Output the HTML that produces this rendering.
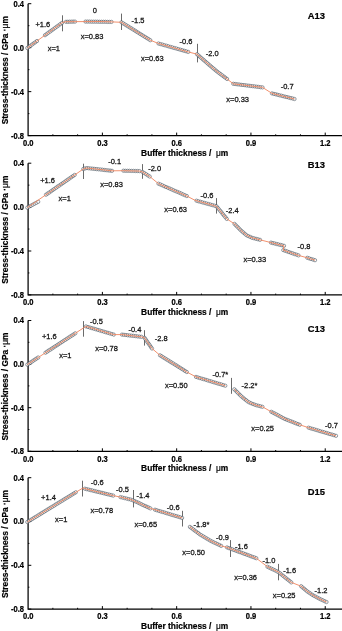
<!DOCTYPE html>
<html><head><meta charset="utf-8"><title>Stress-thickness vs buffer thickness</title>
<style>html,body{margin:0;padding:0;background:#fff}svg{display:block}</style></head>
<body>
<svg width="342" height="631" viewBox="0 0 342 631">
<rect width="342" height="631" fill="#fff"/>
<g>
<path d="M28.1,3.7V135.6H342" fill="none" stroke="#000" stroke-width="1.25"/>
<path d="M28.1,3.70h3.2 M28.1,25.68h1.3 M28.1,47.67h3.2 M28.1,69.65h1.3 M28.1,91.63h3.2 M28.1,113.62h1.3 M28.1,135.60h3.2 M52.86,135.6v-1.3 M77.62,135.6v-1.3 M102.38,135.6v-3.0 M127.14,135.6v-1.3 M151.90,135.6v-1.3 M176.66,135.6v-3.0 M201.42,135.6v-1.3 M226.18,135.6v-1.3 M250.94,135.6v-3.0 M275.70,135.6v-1.3 M300.46,135.6v-1.3 M325.22,135.6v-3.0" fill="none" stroke="#000" stroke-width="1"/>
<g font-family="Liberation Sans, sans-serif" font-weight="bold" font-size="7.8" fill="#000" stroke="#000" stroke-width="0.2">
<text transform="translate(24,6.6) scale(0.97,1.12)" text-anchor="end">0.4</text>
<text transform="translate(24,50.6) scale(0.97,1.12)" text-anchor="end">0.0</text>
<text transform="translate(24,94.5) scale(0.97,1.12)" text-anchor="end">-0.4</text>
<text transform="translate(24,138.5) scale(0.97,1.12)" text-anchor="end">-0.8</text>
<text transform="translate(28.2,145.8) scale(0.97,1.12)" text-anchor="middle">0.0</text>
<text transform="translate(102.5,145.8) scale(0.97,1.12)" text-anchor="middle">0.3</text>
<text transform="translate(176.8,145.8) scale(0.97,1.12)" text-anchor="middle">0.6</text>
<text transform="translate(251.0,145.8) scale(0.97,1.12)" text-anchor="middle">0.9</text>
<text transform="translate(325.3,145.8) scale(0.97,1.12)" text-anchor="middle">1.2</text>
</g>
<text x="141.1" y="155.5" font-family="Liberation Sans, sans-serif" font-weight="bold" font-size="8.4" fill="#000" stroke="#000" stroke-width="0.2" xml:space="preserve">Buffer thickness /  <tspan font-weight="normal">μ</tspan>m</text>
<text transform="translate(8.1,124.3) rotate(-90)" font-family="Liberation Sans, sans-serif" font-weight="bold" font-size="8.4" fill="#000" stroke="#000" stroke-width="0.2">Stress-thickness / GPa ·<tspan font-weight="normal">μ</tspan>m</text>
<text transform="translate(307.7,18.9) scale(1.01,1.06)" font-family="Liberation Sans, sans-serif" font-weight="bold" font-size="9.3" fill="#000" stroke="#000" stroke-width="0.2">A13</text>
<path d="M62.5,15.3V31.3" stroke="#505050" stroke-width="0.85" fill="none"/>
<path d="M121.5,13.6V30" stroke="#505050" stroke-width="0.85" fill="none"/>
<path d="M197.5,43.8V62.4" stroke="#505050" stroke-width="0.85" fill="none"/>
<g fill="#ffffff" fill-opacity="0.8" stroke="#3c4852" stroke-width="0.55"><circle cx="27.3" cy="48.0" r="1.65"/><circle cx="28.9" cy="46.8" r="1.65"/><circle cx="30.5" cy="45.7" r="1.65"/><circle cx="32.1" cy="44.5" r="1.65"/><circle cx="33.8" cy="43.3" r="1.65"/><circle cx="35.4" cy="42.2" r="1.65"/><circle cx="37.0" cy="41.0" r="1.65"/><circle cx="45.0" cy="35.2" r="1.65"/><circle cx="46.7" cy="34.0" r="1.65"/><circle cx="48.4" cy="32.7" r="1.65"/><circle cx="50.1" cy="31.5" r="1.65"/><circle cx="51.8" cy="30.3" r="1.65"/><circle cx="53.5" cy="29.1" r="1.65"/><circle cx="55.2" cy="27.8" r="1.65"/><circle cx="56.9" cy="26.6" r="1.65"/><circle cx="58.6" cy="25.4" r="1.65"/><circle cx="60.3" cy="24.1" r="1.65"/><circle cx="62.0" cy="22.9" r="1.65"/><circle cx="66.0" cy="21.8" r="1.65"/><circle cx="67.8" cy="21.8" r="1.65"/><circle cx="69.6" cy="21.7" r="1.65"/><circle cx="71.4" cy="21.7" r="1.65"/><circle cx="73.2" cy="21.6" r="1.65"/><circle cx="75.0" cy="21.6" r="1.65"/><circle cx="85.5" cy="21.6" r="1.65"/><circle cx="87.5" cy="21.6" r="1.65"/><circle cx="89.5" cy="21.6" r="1.65"/><circle cx="91.5" cy="21.7" r="1.65"/><circle cx="93.5" cy="21.7" r="1.65"/><circle cx="95.5" cy="21.7" r="1.65"/><circle cx="97.5" cy="21.7" r="1.65"/><circle cx="99.5" cy="21.8" r="1.65"/><circle cx="101.5" cy="21.8" r="1.65"/><circle cx="103.5" cy="21.8" r="1.65"/><circle cx="105.5" cy="21.8" r="1.65"/><circle cx="107.5" cy="21.9" r="1.65"/><circle cx="109.5" cy="21.9" r="1.65"/><circle cx="111.5" cy="21.9" r="1.65"/><circle cx="121.5" cy="22.3" r="1.65"/><circle cx="123.2" cy="23.4" r="1.65"/><circle cx="124.9" cy="24.4" r="1.65"/><circle cx="126.6" cy="25.5" r="1.65"/><circle cx="128.3" cy="26.5" r="1.65"/><circle cx="130.0" cy="27.6" r="1.65"/><circle cx="131.7" cy="28.6" r="1.65"/><circle cx="133.4" cy="29.7" r="1.65"/><circle cx="135.1" cy="30.7" r="1.65"/><circle cx="136.7" cy="31.8" r="1.65"/><circle cx="138.4" cy="32.8" r="1.65"/><circle cx="140.1" cy="33.9" r="1.65"/><circle cx="141.8" cy="34.9" r="1.65"/><circle cx="143.5" cy="36.0" r="1.65"/><circle cx="145.2" cy="37.0" r="1.65"/><circle cx="146.9" cy="38.1" r="1.65"/><circle cx="148.6" cy="39.1" r="1.65"/><circle cx="150.3" cy="40.2" r="1.65"/><circle cx="158.5" cy="43.5" r="1.65"/><circle cx="160.5" cy="44.1" r="1.65"/><circle cx="162.5" cy="44.6" r="1.65"/><circle cx="164.4" cy="45.2" r="1.65"/><circle cx="166.4" cy="45.7" r="1.65"/><circle cx="168.4" cy="46.3" r="1.65"/><circle cx="170.4" cy="46.9" r="1.65"/><circle cx="172.4" cy="47.4" r="1.65"/><circle cx="174.3" cy="48.0" r="1.65"/><circle cx="176.3" cy="48.5" r="1.65"/><circle cx="178.3" cy="49.1" r="1.65"/><circle cx="180.3" cy="49.7" r="1.65"/><circle cx="182.3" cy="50.2" r="1.65"/><circle cx="184.2" cy="50.8" r="1.65"/><circle cx="186.2" cy="51.3" r="1.65"/><circle cx="188.2" cy="51.9" r="1.65"/><circle cx="197.0" cy="54.2" r="1.65"/><circle cx="198.5" cy="55.5" r="1.65"/><circle cx="199.9" cy="56.8" r="1.65"/><circle cx="201.4" cy="58.1" r="1.65"/><circle cx="202.9" cy="59.4" r="1.65"/><circle cx="204.3" cy="60.6" r="1.65"/><circle cx="205.8" cy="61.9" r="1.65"/><circle cx="207.3" cy="63.2" r="1.65"/><circle cx="208.7" cy="64.5" r="1.65"/><circle cx="210.2" cy="65.7" r="1.65"/><circle cx="211.7" cy="67.0" r="1.65"/><circle cx="213.2" cy="68.3" r="1.65"/><circle cx="214.7" cy="69.5" r="1.65"/><circle cx="216.2" cy="70.8" r="1.65"/><circle cx="217.7" cy="72.0" r="1.65"/><circle cx="219.3" cy="73.2" r="1.65"/><circle cx="220.8" cy="74.3" r="1.65"/><circle cx="222.4" cy="75.5" r="1.65"/><circle cx="224.0" cy="76.7" r="1.65"/><circle cx="225.5" cy="77.8" r="1.65"/><circle cx="227.1" cy="79.0" r="1.65"/><circle cx="233.3" cy="83.8" r="1.65"/><circle cx="235.2" cy="84.0" r="1.65"/><circle cx="237.2" cy="84.3" r="1.65"/><circle cx="239.1" cy="84.5" r="1.65"/><circle cx="241.1" cy="84.8" r="1.65"/><circle cx="243.0" cy="85.0" r="1.65"/><circle cx="245.0" cy="85.2" r="1.65"/><circle cx="246.9" cy="85.5" r="1.65"/><circle cx="248.9" cy="85.7" r="1.65"/><circle cx="250.8" cy="86.0" r="1.65"/><circle cx="252.8" cy="86.2" r="1.65"/><circle cx="254.7" cy="86.4" r="1.65"/><circle cx="256.7" cy="86.7" r="1.65"/><circle cx="258.6" cy="86.9" r="1.65"/><circle cx="260.6" cy="87.2" r="1.65"/><circle cx="262.5" cy="87.4" r="1.65"/><circle cx="272.0" cy="93.4" r="1.65"/><circle cx="273.9" cy="93.9" r="1.65"/><circle cx="275.8" cy="94.3" r="1.65"/><circle cx="277.6" cy="94.8" r="1.65"/><circle cx="279.5" cy="95.3" r="1.65"/><circle cx="281.4" cy="95.7" r="1.65"/><circle cx="283.2" cy="96.2" r="1.65"/><circle cx="285.1" cy="96.7" r="1.65"/><circle cx="287.0" cy="97.1" r="1.65"/><circle cx="288.9" cy="97.6" r="1.65"/><circle cx="290.8" cy="98.1" r="1.65"/><circle cx="292.6" cy="98.5" r="1.65"/><circle cx="294.5" cy="99.0" r="1.65"/></g>
<polyline points="27.3,48 62.9,22.2 66,21.7 100,21.5 112.2,21.9 121.5,22.3 150.3,40.2 158.5,43.5 188.2,51.9 197,54.2 207,63 217,71.5 227.1,79 233.3,83.8 262.5,87.4 272,93.4 294.5,99" fill="none" stroke="#f0845e" stroke-width="0.9"/>
<g font-family="Liberation Sans, sans-serif" font-size="7.5" fill="#111" stroke="#111" stroke-width="0.25">
<text transform="translate(35.5,27.45) scale(1,1.07)">+1.6</text>
<text transform="translate(47.7,50.85) scale(1,1.07)">x=1</text>
<text transform="translate(92.8,13.45) scale(1,1.07)">0</text>
<text transform="translate(80.7,38.75) scale(1,1.07)">x=0.83</text>
<text transform="translate(131.6,23.45) scale(1,1.07)">-1.5</text>
<text transform="translate(141,61.05) scale(1,1.07)">x=0.63</text>
<text transform="translate(179.5,44.45) scale(1,1.07)">-0.6</text>
<text transform="translate(205.8,55.85) scale(1,1.07)">-2.0</text>
<text transform="translate(280.7,89.35) scale(1,1.07)">-0.7</text>
<text transform="translate(226.3,102.35) scale(1,1.07)">x=0.33</text>
</g>
</g>
<g>
<path d="M28.1,163.2V294.9H342" fill="none" stroke="#000" stroke-width="1.25"/>
<path d="M28.1,163.20h3.2 M28.1,185.15h1.3 M28.1,207.10h3.2 M28.1,229.05h1.3 M28.1,251.00h3.2 M28.1,272.95h1.3 M28.1,294.90h3.2 M52.86,294.9v-1.3 M77.62,294.9v-1.3 M102.38,294.9v-3.0 M127.14,294.9v-1.3 M151.90,294.9v-1.3 M176.66,294.9v-3.0 M201.42,294.9v-1.3 M226.18,294.9v-1.3 M250.94,294.9v-3.0 M275.70,294.9v-1.3 M300.46,294.9v-1.3 M325.22,294.9v-3.0" fill="none" stroke="#000" stroke-width="1"/>
<g font-family="Liberation Sans, sans-serif" font-weight="bold" font-size="7.8" fill="#000" stroke="#000" stroke-width="0.2">
<text transform="translate(24,166.1) scale(0.97,1.12)" text-anchor="end">0.4</text>
<text transform="translate(24,210.0) scale(0.97,1.12)" text-anchor="end">0.0</text>
<text transform="translate(24,253.9) scale(0.97,1.12)" text-anchor="end">-0.4</text>
<text transform="translate(24,297.8) scale(0.97,1.12)" text-anchor="end">-0.8</text>
<text transform="translate(28.2,305.1) scale(0.97,1.12)" text-anchor="middle">0.0</text>
<text transform="translate(102.5,305.1) scale(0.97,1.12)" text-anchor="middle">0.3</text>
<text transform="translate(176.8,305.1) scale(0.97,1.12)" text-anchor="middle">0.6</text>
<text transform="translate(251.0,305.1) scale(0.97,1.12)" text-anchor="middle">0.9</text>
<text transform="translate(325.3,305.1) scale(0.97,1.12)" text-anchor="middle">1.2</text>
</g>
<text x="141.1" y="314.8" font-family="Liberation Sans, sans-serif" font-weight="bold" font-size="8.4" fill="#000" stroke="#000" stroke-width="0.2" xml:space="preserve">Buffer thickness /  <tspan font-weight="normal">μ</tspan>m</text>
<text transform="translate(8.1,283.8) rotate(-90)" font-family="Liberation Sans, sans-serif" font-weight="bold" font-size="8.4" fill="#000" stroke="#000" stroke-width="0.2">Stress-thickness / GPa ·<tspan font-weight="normal">μ</tspan>m</text>
<text transform="translate(307.7,168.2) scale(1.01,1.06)" font-family="Liberation Sans, sans-serif" font-weight="bold" font-size="9.3" fill="#000" stroke="#000" stroke-width="0.2">B13</text>
<path d="M83.5,163.7V179" stroke="#505050" stroke-width="0.85" fill="none"/>
<path d="M142.5,164.1V178.8" stroke="#505050" stroke-width="0.85" fill="none"/>
<path d="M216.5,198.1V213.6" stroke="#505050" stroke-width="0.85" fill="none"/>
<g fill="#ffffff" fill-opacity="0.8" stroke="#3c4852" stroke-width="0.55"><circle cx="27.3" cy="207.6" r="1.65"/><circle cx="29.1" cy="206.6" r="1.65"/><circle cx="30.9" cy="205.7" r="1.65"/><circle cx="32.8" cy="204.7" r="1.65"/><circle cx="34.6" cy="203.7" r="1.65"/><circle cx="36.4" cy="202.8" r="1.65"/><circle cx="38.2" cy="201.8" r="1.65"/><circle cx="46.0" cy="194.7" r="1.65"/><circle cx="47.7" cy="193.5" r="1.65"/><circle cx="49.4" cy="192.4" r="1.65"/><circle cx="51.1" cy="191.2" r="1.65"/><circle cx="52.8" cy="190.0" r="1.65"/><circle cx="54.4" cy="188.9" r="1.65"/><circle cx="56.1" cy="187.7" r="1.65"/><circle cx="57.8" cy="186.5" r="1.65"/><circle cx="59.5" cy="185.4" r="1.65"/><circle cx="61.2" cy="184.2" r="1.65"/><circle cx="62.9" cy="183.1" r="1.65"/><circle cx="64.6" cy="181.9" r="1.65"/><circle cx="66.3" cy="180.7" r="1.65"/><circle cx="67.9" cy="179.6" r="1.65"/><circle cx="69.6" cy="178.4" r="1.65"/><circle cx="71.3" cy="177.2" r="1.65"/><circle cx="73.0" cy="176.1" r="1.65"/><circle cx="74.7" cy="174.9" r="1.65"/><circle cx="83.3" cy="169.0" r="1.65"/><circle cx="85.1" cy="168.4" r="1.65"/><circle cx="87.0" cy="168.1" r="1.65"/><circle cx="88.9" cy="168.3" r="1.65"/><circle cx="90.9" cy="168.5" r="1.65"/><circle cx="92.8" cy="168.7" r="1.65"/><circle cx="94.7" cy="168.9" r="1.65"/><circle cx="96.6" cy="169.1" r="1.65"/><circle cx="98.5" cy="169.3" r="1.65"/><circle cx="100.5" cy="169.5" r="1.65"/><circle cx="102.4" cy="169.7" r="1.65"/><circle cx="104.3" cy="170.0" r="1.65"/><circle cx="106.2" cy="170.2" r="1.65"/><circle cx="108.2" cy="170.4" r="1.65"/><circle cx="110.1" cy="170.6" r="1.65"/><circle cx="112.0" cy="170.8" r="1.65"/><circle cx="123.4" cy="170.7" r="1.65"/><circle cx="125.4" cy="170.8" r="1.65"/><circle cx="127.4" cy="170.8" r="1.65"/><circle cx="129.4" cy="170.8" r="1.65"/><circle cx="131.4" cy="170.9" r="1.65"/><circle cx="133.5" cy="170.9" r="1.65"/><circle cx="135.5" cy="171.0" r="1.65"/><circle cx="137.5" cy="171.0" r="1.65"/><circle cx="139.5" cy="171.1" r="1.65"/><circle cx="142.6" cy="172.0" r="1.65"/><circle cx="144.4" cy="173.1" r="1.65"/><circle cx="146.1" cy="174.2" r="1.65"/><circle cx="147.9" cy="175.4" r="1.65"/><circle cx="149.7" cy="176.5" r="1.65"/><circle cx="158.5" cy="183.7" r="1.65"/><circle cx="160.4" cy="184.5" r="1.65"/><circle cx="162.3" cy="185.3" r="1.65"/><circle cx="164.2" cy="186.2" r="1.65"/><circle cx="166.0" cy="187.0" r="1.65"/><circle cx="167.9" cy="187.8" r="1.65"/><circle cx="169.8" cy="188.6" r="1.65"/><circle cx="171.7" cy="189.4" r="1.65"/><circle cx="173.6" cy="190.3" r="1.65"/><circle cx="175.5" cy="191.1" r="1.65"/><circle cx="177.4" cy="191.9" r="1.65"/><circle cx="179.3" cy="192.7" r="1.65"/><circle cx="181.1" cy="193.5" r="1.65"/><circle cx="183.0" cy="194.4" r="1.65"/><circle cx="184.9" cy="195.2" r="1.65"/><circle cx="186.8" cy="196.0" r="1.65"/><circle cx="196.5" cy="200.7" r="1.65"/><circle cx="198.5" cy="201.3" r="1.65"/><circle cx="200.5" cy="201.8" r="1.65"/><circle cx="202.5" cy="202.4" r="1.65"/><circle cx="204.5" cy="202.9" r="1.65"/><circle cx="206.5" cy="203.5" r="1.65"/><circle cx="208.5" cy="204.0" r="1.65"/><circle cx="210.5" cy="204.6" r="1.65"/><circle cx="212.5" cy="205.1" r="1.65"/><circle cx="214.5" cy="205.7" r="1.65"/><circle cx="216.5" cy="206.3" r="1.65"/><circle cx="217.8" cy="207.9" r="1.65"/><circle cx="219.1" cy="209.5" r="1.65"/><circle cx="220.4" cy="211.0" r="1.65"/><circle cx="221.7" cy="212.6" r="1.65"/><circle cx="222.9" cy="214.2" r="1.65"/><circle cx="224.2" cy="215.8" r="1.65"/><circle cx="225.5" cy="217.3" r="1.65"/><circle cx="226.8" cy="218.9" r="1.65"/><circle cx="234.5" cy="223.9" r="1.65"/><circle cx="235.9" cy="225.4" r="1.65"/><circle cx="237.4" cy="226.8" r="1.65"/><circle cx="238.8" cy="228.3" r="1.65"/><circle cx="240.3" cy="229.8" r="1.65"/><circle cx="241.8" cy="231.2" r="1.65"/><circle cx="243.3" cy="232.5" r="1.65"/><circle cx="244.9" cy="233.8" r="1.65"/><circle cx="246.5" cy="235.2" r="1.65"/><circle cx="248.3" cy="236.1" r="1.65"/><circle cx="250.2" cy="236.9" r="1.65"/><circle cx="252.0" cy="237.8" r="1.65"/><circle cx="254.0" cy="238.3" r="1.65"/><circle cx="256.0" cy="238.8" r="1.65"/><circle cx="258.0" cy="239.3" r="1.65"/><circle cx="260.0" cy="239.8" r="1.65"/><circle cx="271.0" cy="242.6" r="1.65"/><circle cx="272.9" cy="243.1" r="1.65"/><circle cx="274.7" cy="243.5" r="1.65"/><circle cx="276.6" cy="244.0" r="1.65"/><circle cx="278.4" cy="244.4" r="1.65"/><circle cx="280.3" cy="244.9" r="1.65"/><circle cx="282.1" cy="245.3" r="1.65"/><circle cx="284.0" cy="245.8" r="1.65"/><circle cx="283.3" cy="250.1" r="1.65"/><circle cx="285.2" cy="250.8" r="1.65"/><circle cx="287.1" cy="251.4" r="1.65"/><circle cx="289.0" cy="252.1" r="1.65"/><circle cx="290.9" cy="252.8" r="1.65"/><circle cx="292.8" cy="253.4" r="1.65"/><circle cx="294.7" cy="254.1" r="1.65"/><circle cx="296.6" cy="254.7" r="1.65"/><circle cx="298.5" cy="255.4" r="1.65"/><circle cx="307.3" cy="257.8" r="1.65"/><circle cx="309.2" cy="258.4" r="1.65"/><circle cx="311.1" cy="259.0" r="1.65"/><circle cx="313.1" cy="259.6" r="1.65"/><circle cx="315.0" cy="260.2" r="1.65"/></g>
<polyline points="27.3,207.6 83.3,169 86.4,168 112,170.8 123.4,170.7 139.5,171.1 142.6,172 149.7,176.5 158.5,183.7 186.8,196 195,200.3 214.5,205.7 216.5,206.3 226.8,218.9 234.5,223.9 241,230.5 246.5,235.2 252,237.8 260,239.8 271,242.6 284,245.8 283.3,250.1 298.5,255.4 307.3,257.8 315,260.2" fill="none" stroke="#f0845e" stroke-width="0.9"/>
<g font-family="Liberation Sans, sans-serif" font-size="7.5" fill="#111" stroke="#111" stroke-width="0.25">
<text transform="translate(40.2,183.15) scale(1,1.07)">+1.6</text>
<text transform="translate(58.6,201.35) scale(1,1.07)">x=1</text>
<text transform="translate(108.2,164.05) scale(1,1.07)">-0.1</text>
<text transform="translate(100.2,186.75) scale(1,1.07)">x=0.83</text>
<text transform="translate(148.2,171.25) scale(1,1.07)">-2.0</text>
<text transform="translate(164.3,212.15) scale(1,1.07)">x=0.63</text>
<text transform="translate(200.5,198.25) scale(1,1.07)">-0.6</text>
<text transform="translate(225.8,212.75) scale(1,1.07)">-2.4</text>
<text transform="translate(297.6,249.15) scale(1,1.07)">-0.8</text>
<text transform="translate(243.5,262.25) scale(1,1.07)">x=0.33</text>
</g>
</g>
<g>
<path d="M28.1,320.5V451.3H342" fill="none" stroke="#000" stroke-width="1.25"/>
<path d="M28.1,320.50h3.2 M28.1,342.30h1.3 M28.1,364.10h3.2 M28.1,385.90h1.3 M28.1,407.70h3.2 M28.1,429.50h1.3 M28.1,451.30h3.2 M52.86,451.3v-1.3 M77.62,451.3v-1.3 M102.38,451.3v-3.0 M127.14,451.3v-1.3 M151.90,451.3v-1.3 M176.66,451.3v-3.0 M201.42,451.3v-1.3 M226.18,451.3v-1.3 M250.94,451.3v-3.0 M275.70,451.3v-1.3 M300.46,451.3v-1.3 M325.22,451.3v-3.0" fill="none" stroke="#000" stroke-width="1"/>
<g font-family="Liberation Sans, sans-serif" font-weight="bold" font-size="7.8" fill="#000" stroke="#000" stroke-width="0.2">
<text transform="translate(24,323.4) scale(0.97,1.12)" text-anchor="end">0.4</text>
<text transform="translate(24,367.0) scale(0.97,1.12)" text-anchor="end">0.0</text>
<text transform="translate(24,410.6) scale(0.97,1.12)" text-anchor="end">-0.4</text>
<text transform="translate(24,454.2) scale(0.97,1.12)" text-anchor="end">-0.8</text>
<text transform="translate(28.2,461.5) scale(0.97,1.12)" text-anchor="middle">0.0</text>
<text transform="translate(102.5,461.5) scale(0.97,1.12)" text-anchor="middle">0.3</text>
<text transform="translate(176.8,461.5) scale(0.97,1.12)" text-anchor="middle">0.6</text>
<text transform="translate(251.0,461.5) scale(0.97,1.12)" text-anchor="middle">0.9</text>
<text transform="translate(325.3,461.5) scale(0.97,1.12)" text-anchor="middle">1.2</text>
</g>
<text x="141.1" y="471.2" font-family="Liberation Sans, sans-serif" font-weight="bold" font-size="8.4" fill="#000" stroke="#000" stroke-width="0.2" xml:space="preserve">Buffer thickness /  <tspan font-weight="normal">μ</tspan>m</text>
<text transform="translate(8.1,440.6) rotate(-90)" font-family="Liberation Sans, sans-serif" font-weight="bold" font-size="8.4" fill="#000" stroke="#000" stroke-width="0.2">Stress-thickness / GPa ·<tspan font-weight="normal">μ</tspan>m</text>
<text transform="translate(307.7,331.9) scale(1.01,1.06)" font-family="Liberation Sans, sans-serif" font-weight="bold" font-size="9.3" fill="#000" stroke="#000" stroke-width="0.2">C13</text>
<path d="M83.5,321.1V336.7" stroke="#505050" stroke-width="0.85" fill="none"/>
<path d="M144.5,330.2V345.6" stroke="#505050" stroke-width="0.85" fill="none"/>
<path d="M231.5,377.9V393.8" stroke="#505050" stroke-width="0.85" fill="none"/>
<g fill="#ffffff" fill-opacity="0.8" stroke="#3c4852" stroke-width="0.55"><circle cx="27.3" cy="364.6" r="1.65"/><circle cx="28.9" cy="363.6" r="1.65"/><circle cx="30.4" cy="362.6" r="1.65"/><circle cx="32.0" cy="361.6" r="1.65"/><circle cx="33.5" cy="360.5" r="1.65"/><circle cx="35.1" cy="359.5" r="1.65"/><circle cx="36.6" cy="358.5" r="1.65"/><circle cx="38.2" cy="357.5" r="1.65"/><circle cx="45.5" cy="352.7" r="1.65"/><circle cx="47.2" cy="351.6" r="1.65"/><circle cx="48.8" cy="350.5" r="1.65"/><circle cx="50.5" cy="349.5" r="1.65"/><circle cx="52.1" cy="348.4" r="1.65"/><circle cx="53.8" cy="347.3" r="1.65"/><circle cx="55.4" cy="346.2" r="1.65"/><circle cx="57.1" cy="345.2" r="1.65"/><circle cx="58.7" cy="344.1" r="1.65"/><circle cx="60.4" cy="343.0" r="1.65"/><circle cx="62.1" cy="341.9" r="1.65"/><circle cx="63.7" cy="340.8" r="1.65"/><circle cx="65.4" cy="339.8" r="1.65"/><circle cx="67.0" cy="338.7" r="1.65"/><circle cx="68.7" cy="337.6" r="1.65"/><circle cx="70.3" cy="336.5" r="1.65"/><circle cx="72.0" cy="335.5" r="1.65"/><circle cx="73.6" cy="334.4" r="1.65"/><circle cx="75.3" cy="333.3" r="1.65"/><circle cx="86.0" cy="326.4" r="1.65"/><circle cx="88.0" cy="327.0" r="1.65"/><circle cx="90.0" cy="327.6" r="1.65"/><circle cx="92.0" cy="328.2" r="1.65"/><circle cx="93.9" cy="328.7" r="1.65"/><circle cx="95.9" cy="329.3" r="1.65"/><circle cx="97.9" cy="329.9" r="1.65"/><circle cx="99.9" cy="330.5" r="1.65"/><circle cx="101.9" cy="331.1" r="1.65"/><circle cx="103.9" cy="331.7" r="1.65"/><circle cx="105.9" cy="332.3" r="1.65"/><circle cx="107.8" cy="332.8" r="1.65"/><circle cx="109.8" cy="333.4" r="1.65"/><circle cx="111.8" cy="334.0" r="1.65"/><circle cx="113.8" cy="334.6" r="1.65"/><circle cx="122.0" cy="334.6" r="1.65"/><circle cx="123.9" cy="334.8" r="1.65"/><circle cx="125.9" cy="335.0" r="1.65"/><circle cx="127.8" cy="335.3" r="1.65"/><circle cx="129.8" cy="335.5" r="1.65"/><circle cx="131.7" cy="335.7" r="1.65"/><circle cx="133.6" cy="335.9" r="1.65"/><circle cx="135.6" cy="336.1" r="1.65"/><circle cx="137.5" cy="336.4" r="1.65"/><circle cx="139.5" cy="336.6" r="1.65"/><circle cx="141.4" cy="336.8" r="1.65"/><circle cx="144.5" cy="337.8" r="1.65"/><circle cx="145.6" cy="339.3" r="1.65"/><circle cx="146.6" cy="340.9" r="1.65"/><circle cx="147.7" cy="342.4" r="1.65"/><circle cx="148.8" cy="343.9" r="1.65"/><circle cx="149.9" cy="345.4" r="1.65"/><circle cx="150.9" cy="347.0" r="1.65"/><circle cx="152.0" cy="348.5" r="1.65"/><circle cx="160.0" cy="355.3" r="1.65"/><circle cx="161.7" cy="356.3" r="1.65"/><circle cx="163.3" cy="357.4" r="1.65"/><circle cx="165.0" cy="358.4" r="1.65"/><circle cx="166.7" cy="359.5" r="1.65"/><circle cx="168.4" cy="360.5" r="1.65"/><circle cx="170.1" cy="361.6" r="1.65"/><circle cx="171.7" cy="362.6" r="1.65"/><circle cx="173.4" cy="363.6" r="1.65"/><circle cx="175.1" cy="364.7" r="1.65"/><circle cx="176.8" cy="365.7" r="1.65"/><circle cx="178.4" cy="366.8" r="1.65"/><circle cx="180.1" cy="367.8" r="1.65"/><circle cx="181.8" cy="368.9" r="1.65"/><circle cx="183.5" cy="369.9" r="1.65"/><circle cx="185.1" cy="371.0" r="1.65"/><circle cx="186.8" cy="372.0" r="1.65"/><circle cx="196.0" cy="376.9" r="1.65"/><circle cx="198.0" cy="377.5" r="1.65"/><circle cx="199.9" cy="378.1" r="1.65"/><circle cx="201.9" cy="378.7" r="1.65"/><circle cx="203.8" cy="379.2" r="1.65"/><circle cx="205.8" cy="379.8" r="1.65"/><circle cx="207.7" cy="380.4" r="1.65"/><circle cx="209.7" cy="381.0" r="1.65"/><circle cx="211.6" cy="381.6" r="1.65"/><circle cx="213.6" cy="382.2" r="1.65"/><circle cx="215.5" cy="382.8" r="1.65"/><circle cx="217.5" cy="383.4" r="1.65"/><circle cx="219.4" cy="383.9" r="1.65"/><circle cx="221.4" cy="384.5" r="1.65"/><circle cx="223.3" cy="385.1" r="1.65"/><circle cx="225.3" cy="385.7" r="1.65"/><circle cx="234.3" cy="389.3" r="1.65"/><circle cx="235.7" cy="390.7" r="1.65"/><circle cx="237.1" cy="392.1" r="1.65"/><circle cx="238.5" cy="393.5" r="1.65"/><circle cx="239.9" cy="394.9" r="1.65"/><circle cx="241.3" cy="396.3" r="1.65"/><circle cx="242.9" cy="397.6" r="1.65"/><circle cx="244.4" cy="398.9" r="1.65"/><circle cx="246.0" cy="400.1" r="1.65"/><circle cx="247.5" cy="401.4" r="1.65"/><circle cx="249.2" cy="402.4" r="1.65"/><circle cx="251.0" cy="403.2" r="1.65"/><circle cx="252.9" cy="404.0" r="1.65"/><circle cx="254.7" cy="404.7" r="1.65"/><circle cx="256.6" cy="405.3" r="1.65"/><circle cx="258.5" cy="405.8" r="1.65"/><circle cx="260.5" cy="406.3" r="1.65"/><circle cx="262.4" cy="406.8" r="1.65"/><circle cx="271.3" cy="411.8" r="1.65"/><circle cx="273.0" cy="412.7" r="1.65"/><circle cx="274.8" cy="413.6" r="1.65"/><circle cx="276.5" cy="414.5" r="1.65"/><circle cx="278.2" cy="415.4" r="1.65"/><circle cx="280.0" cy="416.4" r="1.65"/><circle cx="281.7" cy="417.3" r="1.65"/><circle cx="283.4" cy="418.2" r="1.65"/><circle cx="285.2" cy="419.1" r="1.65"/><circle cx="287.0" cy="419.8" r="1.65"/><circle cx="288.8" cy="420.5" r="1.65"/><circle cx="290.7" cy="421.2" r="1.65"/><circle cx="292.5" cy="421.9" r="1.65"/><circle cx="294.3" cy="422.7" r="1.65"/><circle cx="296.1" cy="423.4" r="1.65"/><circle cx="298.0" cy="424.1" r="1.65"/><circle cx="299.8" cy="424.8" r="1.65"/><circle cx="308.6" cy="427.7" r="1.65"/><circle cx="310.6" cy="428.3" r="1.65"/><circle cx="312.5" cy="428.9" r="1.65"/><circle cx="314.5" cy="429.4" r="1.65"/><circle cx="316.4" cy="430.0" r="1.65"/><circle cx="318.4" cy="430.6" r="1.65"/><circle cx="320.3" cy="431.2" r="1.65"/><circle cx="322.3" cy="431.8" r="1.65"/><circle cx="324.3" cy="432.3" r="1.65"/><circle cx="326.2" cy="432.9" r="1.65"/><circle cx="328.2" cy="433.5" r="1.65"/><circle cx="330.1" cy="434.1" r="1.65"/><circle cx="332.1" cy="434.6" r="1.65"/><circle cx="334.0" cy="435.2" r="1.65"/><circle cx="336.0" cy="435.8" r="1.65"/></g>
<polyline points="27.3,364.6 83.1,328.2 86,326.4 113.8,334.6 122,334.6 141.4,336.8 144.5,337.8 152,348.5 160,355.3 186.8,372 196,376.9 225.3,385.7" fill="none" stroke="#f0845e" stroke-width="0.9"/>
<polyline points="234.3,389.3 241.3,396.3 248.3,402 255.3,405 262.4,406.8 271.3,411.8 285,419 299.8,424.8 308.6,427.7 336,435.8" fill="none" stroke="#f0845e" stroke-width="0.9"/>
<g font-family="Liberation Sans, sans-serif" font-size="7.5" fill="#111" stroke="#111" stroke-width="0.25">
<text transform="translate(42,339.45) scale(1,1.07)">+1.6</text>
<text transform="translate(59.2,358.35) scale(1,1.07)">x=1</text>
<text transform="translate(89.9,323.75) scale(1,1.07)">-0.5</text>
<text transform="translate(95.2,350.95) scale(1,1.07)">x=0.78</text>
<text transform="translate(128.4,331.95) scale(1,1.07)">-0.4</text>
<text transform="translate(154.7,341.35) scale(1,1.07)">-2.8</text>
<text transform="translate(165,387.65) scale(1,1.07)">x=0.50</text>
<text transform="translate(212.4,377.05) scale(1,1.07)">-0.7*</text>
<text transform="translate(241.6,388.45) scale(1,1.07)">-2.2*</text>
<text transform="translate(325,427.75) scale(1,1.07)">-0.7</text>
<text transform="translate(251.3,430.75) scale(1,1.07)">x=0.25</text>
</g>
</g>
<g>
<path d="M28.1,477.7V609.1H342" fill="none" stroke="#000" stroke-width="1.25"/>
<path d="M28.1,477.70h3.2 M28.1,499.60h1.3 M28.1,521.50h3.2 M28.1,543.40h1.3 M28.1,565.30h3.2 M28.1,587.20h1.3 M28.1,609.10h3.2 M52.86,609.1v-1.3 M77.62,609.1v-1.3 M102.38,609.1v-3.0 M127.14,609.1v-1.3 M151.90,609.1v-1.3 M176.66,609.1v-3.0 M201.42,609.1v-1.3 M226.18,609.1v-1.3 M250.94,609.1v-3.0 M275.70,609.1v-1.3 M300.46,609.1v-1.3 M325.22,609.1v-3.0" fill="none" stroke="#000" stroke-width="1"/>
<g font-family="Liberation Sans, sans-serif" font-weight="bold" font-size="7.8" fill="#000" stroke="#000" stroke-width="0.2">
<text transform="translate(24,480.6) scale(0.97,1.12)" text-anchor="end">0.4</text>
<text transform="translate(24,524.4) scale(0.97,1.12)" text-anchor="end">0.0</text>
<text transform="translate(24,568.2) scale(0.97,1.12)" text-anchor="end">-0.4</text>
<text transform="translate(24,612.0) scale(0.97,1.12)" text-anchor="end">-0.8</text>
<text transform="translate(28.2,619.3) scale(0.97,1.12)" text-anchor="middle">0.0</text>
<text transform="translate(102.5,619.3) scale(0.97,1.12)" text-anchor="middle">0.3</text>
<text transform="translate(176.8,619.3) scale(0.97,1.12)" text-anchor="middle">0.6</text>
<text transform="translate(251.0,619.3) scale(0.97,1.12)" text-anchor="middle">0.9</text>
<text transform="translate(325.3,619.3) scale(0.97,1.12)" text-anchor="middle">1.2</text>
</g>
<text x="141.1" y="629.0" font-family="Liberation Sans, sans-serif" font-weight="bold" font-size="8.4" fill="#000" stroke="#000" stroke-width="0.2" xml:space="preserve">Buffer thickness /  <tspan font-weight="normal">μ</tspan>m</text>
<text transform="translate(8.1,598.1) rotate(-90)" font-family="Liberation Sans, sans-serif" font-weight="bold" font-size="8.4" fill="#000" stroke="#000" stroke-width="0.2">Stress-thickness / GPa ·<tspan font-weight="normal">μ</tspan>m</text>
<text transform="translate(307.7,494.8) scale(1.01,1.06)" font-family="Liberation Sans, sans-serif" font-weight="bold" font-size="9.3" fill="#000" stroke="#000" stroke-width="0.2">D15</text>
<path d="M82.5,480.7V496.5" stroke="#505050" stroke-width="0.85" fill="none"/>
<path d="M133.5,490V507.4" stroke="#505050" stroke-width="0.85" fill="none"/>
<path d="M182.5,510.8V526.5" stroke="#505050" stroke-width="0.85" fill="none"/>
<path d="M230.5,540.1V557" stroke="#505050" stroke-width="0.85" fill="none"/>
<path d="M278.5,563.9V580.3" stroke="#505050" stroke-width="0.85" fill="none"/>
<g fill="#ffffff" fill-opacity="0.8" stroke="#3c4852" stroke-width="0.55"><circle cx="27.3" cy="522.0" r="1.65"/><circle cx="29.0" cy="521.0" r="1.65"/><circle cx="30.8" cy="519.9" r="1.65"/><circle cx="32.5" cy="518.9" r="1.65"/><circle cx="34.2" cy="517.8" r="1.65"/><circle cx="35.9" cy="516.8" r="1.65"/><circle cx="37.7" cy="515.7" r="1.65"/><circle cx="39.4" cy="514.6" r="1.65"/><circle cx="41.1" cy="513.6" r="1.65"/><circle cx="42.5" cy="512.7" r="1.65"/><circle cx="44.2" cy="511.7" r="1.65"/><circle cx="45.8" cy="510.7" r="1.65"/><circle cx="47.5" cy="509.6" r="1.65"/><circle cx="49.2" cy="508.6" r="1.65"/><circle cx="50.8" cy="507.6" r="1.65"/><circle cx="52.5" cy="506.6" r="1.65"/><circle cx="54.2" cy="505.6" r="1.65"/><circle cx="55.8" cy="504.5" r="1.65"/><circle cx="57.5" cy="503.5" r="1.65"/><circle cx="59.1" cy="502.5" r="1.65"/><circle cx="60.8" cy="501.5" r="1.65"/><circle cx="62.5" cy="500.5" r="1.65"/><circle cx="64.1" cy="499.4" r="1.65"/><circle cx="65.8" cy="498.4" r="1.65"/><circle cx="67.5" cy="497.4" r="1.65"/><circle cx="69.1" cy="496.4" r="1.65"/><circle cx="70.8" cy="495.4" r="1.65"/><circle cx="72.5" cy="494.3" r="1.65"/><circle cx="74.1" cy="493.3" r="1.65"/><circle cx="75.8" cy="492.3" r="1.65"/><circle cx="84.9" cy="488.7" r="1.65"/><circle cx="86.8" cy="489.2" r="1.65"/><circle cx="88.7" cy="489.6" r="1.65"/><circle cx="90.6" cy="490.1" r="1.65"/><circle cx="92.4" cy="490.5" r="1.65"/><circle cx="94.3" cy="491.0" r="1.65"/><circle cx="96.2" cy="491.5" r="1.65"/><circle cx="98.1" cy="491.9" r="1.65"/><circle cx="100.0" cy="492.4" r="1.65"/><circle cx="101.9" cy="492.8" r="1.65"/><circle cx="103.8" cy="493.3" r="1.65"/><circle cx="105.7" cy="493.8" r="1.65"/><circle cx="107.5" cy="494.2" r="1.65"/><circle cx="109.4" cy="494.7" r="1.65"/><circle cx="111.3" cy="495.1" r="1.65"/><circle cx="113.2" cy="495.6" r="1.65"/><circle cx="120.5" cy="497.1" r="1.65"/><circle cx="122.5" cy="497.6" r="1.65"/><circle cx="124.6" cy="498.1" r="1.65"/><circle cx="126.6" cy="498.6" r="1.65"/><circle cx="128.7" cy="499.1" r="1.65"/><circle cx="130.7" cy="499.6" r="1.65"/><circle cx="132.9" cy="500.3" r="1.65"/><circle cx="134.7" cy="501.1" r="1.65"/><circle cx="136.4" cy="501.9" r="1.65"/><circle cx="138.2" cy="502.7" r="1.65"/><circle cx="139.9" cy="503.5" r="1.65"/><circle cx="141.7" cy="504.4" r="1.65"/><circle cx="143.4" cy="505.2" r="1.65"/><circle cx="145.2" cy="506.0" r="1.65"/><circle cx="146.9" cy="506.8" r="1.65"/><circle cx="148.7" cy="507.6" r="1.65"/><circle cx="150.4" cy="508.4" r="1.65"/><circle cx="155.0" cy="509.7" r="1.65"/><circle cx="156.9" cy="510.3" r="1.65"/><circle cx="158.9" cy="510.9" r="1.65"/><circle cx="160.8" cy="511.5" r="1.65"/><circle cx="162.7" cy="512.0" r="1.65"/><circle cx="164.7" cy="512.6" r="1.65"/><circle cx="166.6" cy="513.2" r="1.65"/><circle cx="168.5" cy="513.8" r="1.65"/><circle cx="170.5" cy="514.4" r="1.65"/><circle cx="172.4" cy="515.0" r="1.65"/><circle cx="174.4" cy="515.6" r="1.65"/><circle cx="176.3" cy="516.1" r="1.65"/><circle cx="178.2" cy="516.7" r="1.65"/><circle cx="180.2" cy="517.3" r="1.65"/><circle cx="182.1" cy="517.9" r="1.65"/><circle cx="189.9" cy="526.9" r="1.65"/><circle cx="191.5" cy="528.1" r="1.65"/><circle cx="193.2" cy="529.4" r="1.65"/><circle cx="194.8" cy="530.6" r="1.65"/><circle cx="196.4" cy="531.8" r="1.65"/><circle cx="198.1" cy="533.0" r="1.65"/><circle cx="199.7" cy="534.3" r="1.65"/><circle cx="201.4" cy="535.3" r="1.65"/><circle cx="203.2" cy="536.4" r="1.65"/><circle cx="204.9" cy="537.4" r="1.65"/><circle cx="206.7" cy="538.5" r="1.65"/><circle cx="208.4" cy="539.5" r="1.65"/><circle cx="210.2" cy="540.6" r="1.65"/><circle cx="212.0" cy="541.5" r="1.65"/><circle cx="213.8" cy="542.4" r="1.65"/><circle cx="215.7" cy="543.2" r="1.65"/><circle cx="217.5" cy="544.1" r="1.65"/><circle cx="219.4" cy="545.0" r="1.65"/><circle cx="221.2" cy="545.9" r="1.65"/><circle cx="227.0" cy="547.4" r="1.65"/><circle cx="228.8" cy="548.1" r="1.65"/><circle cx="230.7" cy="548.8" r="1.65"/><circle cx="232.5" cy="549.4" r="1.65"/><circle cx="234.3" cy="550.1" r="1.65"/><circle cx="236.2" cy="550.8" r="1.65"/><circle cx="238.0" cy="551.5" r="1.65"/><circle cx="239.8" cy="552.1" r="1.65"/><circle cx="241.7" cy="552.8" r="1.65"/><circle cx="243.5" cy="553.5" r="1.65"/><circle cx="245.3" cy="554.1" r="1.65"/><circle cx="247.1" cy="554.8" r="1.65"/><circle cx="249.0" cy="555.5" r="1.65"/><circle cx="250.8" cy="556.2" r="1.65"/><circle cx="252.6" cy="556.9" r="1.65"/><circle cx="254.5" cy="557.5" r="1.65"/><circle cx="256.3" cy="558.2" r="1.65"/><circle cx="267.5" cy="566.8" r="1.65"/><circle cx="269.3" cy="567.7" r="1.65"/><circle cx="271.2" cy="568.6" r="1.65"/><circle cx="273.0" cy="569.4" r="1.65"/><circle cx="274.9" cy="570.3" r="1.65"/><circle cx="276.7" cy="571.2" r="1.65"/><circle cx="278.5" cy="572.2" r="1.65"/><circle cx="280.1" cy="573.4" r="1.65"/><circle cx="281.7" cy="574.7" r="1.65"/><circle cx="283.3" cy="576.0" r="1.65"/><circle cx="284.9" cy="577.3" r="1.65"/><circle cx="286.5" cy="578.6" r="1.65"/><circle cx="288.1" cy="579.8" r="1.65"/><circle cx="289.7" cy="581.1" r="1.65"/><circle cx="291.3" cy="582.4" r="1.65"/><circle cx="301.1" cy="586.2" r="1.65"/><circle cx="302.6" cy="587.5" r="1.65"/><circle cx="304.2" cy="588.8" r="1.65"/><circle cx="305.7" cy="590.1" r="1.65"/><circle cx="307.2" cy="591.4" r="1.65"/><circle cx="308.9" cy="592.5" r="1.65"/><circle cx="310.5" cy="593.6" r="1.65"/><circle cx="312.2" cy="594.8" r="1.65"/><circle cx="313.9" cy="595.8" r="1.65"/><circle cx="315.7" cy="596.7" r="1.65"/><circle cx="317.5" cy="597.7" r="1.65"/><circle cx="319.2" cy="598.6" r="1.65"/><circle cx="321.0" cy="599.5" r="1.65"/><circle cx="322.9" cy="600.3" r="1.65"/><circle cx="324.7" cy="601.2" r="1.65"/><circle cx="326.5" cy="602.0" r="1.65"/></g>
<polyline points="27.3,522 82.9,488 84.9,488.7 113.2,495.6 120.5,497.1 130.7,499.6 132.9,500.3 150.4,508.4 155,509.7 182.1,517.9" fill="none" stroke="#f0845e" stroke-width="0.9"/>
<polyline points="189.9,526.9 200,534.5 210,540.5 221.2,545.9 227,547.4 256.3,558.2 267.5,566.8 278.2,571.9 291.3,582.4 301.1,586.2 307,591.2 313,595.3 320,599 326.5,602" fill="none" stroke="#f0845e" stroke-width="0.9"/>
<g font-family="Liberation Sans, sans-serif" font-size="7.5" fill="#111" stroke="#111" stroke-width="0.25">
<text transform="translate(41.1,499.95) scale(1,1.07)">+1.4</text>
<text transform="translate(55.1,522.05) scale(1,1.07)">x=1</text>
<text transform="translate(90.8,484.75) scale(1,1.07)">-0.6</text>
<text transform="translate(90.4,512.95) scale(1,1.07)">x=0.78</text>
<text transform="translate(116.1,492.35) scale(1,1.07)">-0.5</text>
<text transform="translate(136.6,498.25) scale(1,1.07)">-1.4</text>
<text transform="translate(166.7,509.85) scale(1,1.07)">-0.6</text>
<text transform="translate(134.5,527.15) scale(1,1.07)">x=0.65</text>
<text transform="translate(193.6,527.45) scale(1,1.07)">-1.8*</text>
<text transform="translate(216,539.65) scale(1,1.07)">-0.9</text>
<text transform="translate(234.9,548.85) scale(1,1.07)">-1.6</text>
<text transform="translate(182.3,554.85) scale(1,1.07)">x=0.50</text>
<text transform="translate(234.3,580.35) scale(1,1.07)">x=0.36</text>
<text transform="translate(262.4,562.75) scale(1,1.07)">-1.0</text>
<text transform="translate(283.2,572.85) scale(1,1.07)">-1.6</text>
<text transform="translate(314.6,593.05) scale(1,1.07)">-1.2</text>
<text transform="translate(272.8,598.25) scale(1,1.07)">x=0.25</text>
</g>
</g>
</svg>
</body></html>
